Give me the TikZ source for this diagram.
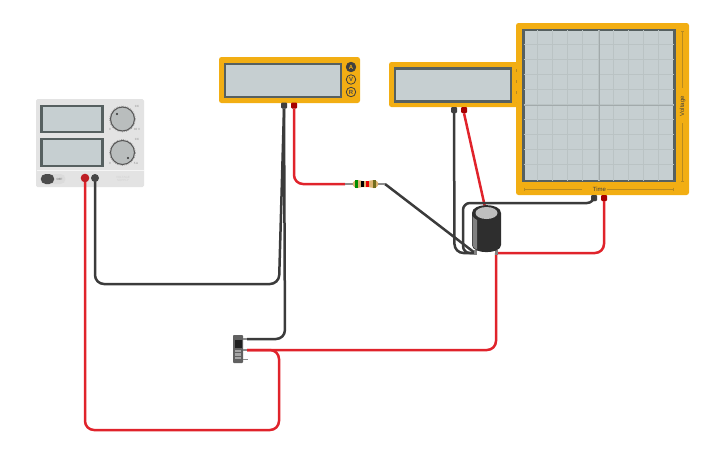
\documentclass[tikz,border=0pt]{standalone}
\usepackage{fontspec}
\setmainfont{Liberation Sans}
\usetikzlibrary{calc}
\definecolor{amber}{HTML}{F2AE13}
\definecolor{amberdk}{HTML}{B98A1E}
\definecolor{lcd}{HTML}{C6CFD1}
\definecolor{lcdedge}{HTML}{566060}
\definecolor{wirered}{HTML}{E0232B}
\definecolor{wireblk}{HTML}{3B3B3B}
\definecolor{psgrey}{HTML}{E3E3E3}
\definecolor{knob}{HTML}{B9BDBD}
\definecolor{tan}{HTML}{DDB36F}
\begin{document}
\begin{tikzpicture}[x=1pt,y=-1pt,
  box/.style={fill=amber,rounded corners=2.5pt},
  lcdbox/.style={fill=lcd,draw=lcdedge,line width=2.2pt},
  redw/.style={draw=wirered,line width=2.5pt,rounded corners=9pt},
  blkw/.style={draw=wireblk,line width=2.5pt,rounded corners=9pt},
  termb/.style={fill=black!75,minimum width=6pt,minimum height=6pt,inner sep=0pt,rounded corners=1pt},
  termr/.style={fill=red!65!black,minimum width=6pt,minimum height=6pt,inner sep=0pt,rounded corners=1pt},
  btn/.style={circle,draw=black!75,line width=.8pt,minimum size=9.5pt,inner sep=0pt,font=\fontsize{6}{6}\selectfont\bfseries,text=black!70},
  dial/.style={circle,fill=knob,draw=black!65,line width=1.1pt,minimum size=24pt,inner sep=0pt},
  tiny/.style={font=\fontsize{3}{3}\selectfont,text=black!45,inner sep=0pt},
  scal/.style={draw=amberdk,line width=.5pt},
  label/.style={font=\fontsize{6}{6}\selectfont,text=black!75,inner sep=0pt}]
\useasboundingbox (0,0) rectangle (725,453);

% wire end points at the parts
\coordinate (rl) at (345,184);
\coordinate (rr) at (385,184);
\coordinate (capk) at (475,253);
\coordinate (capa) at (496,253);
\coordinate (capt) at (485,207);
\coordinate (swa) at (247,339);
\coordinate (swb) at (247,350);
\coordinate (swc) at (248,359.5);
\coordinate (c1) at (279,284);
\coordinate (c2) at (279,430);
\coordinate (c3) at (496,350);

% power supply
\node[fill=psgrey,rounded corners=1.5pt,minimum width=108pt,minimum height=88pt,inner sep=0pt] (ps) at (90,143) {};
\fill[black!4] (36.5,170) rectangle (143.5,171);
\node[lcdbox,minimum width=61pt,minimum height=26pt,inner sep=0pt] (ps1) at (72,119) {};
\node[lcdbox,minimum width=61pt,minimum height=26.5pt,inner sep=0pt] (ps2) at (72,152.5) {};
\node[dial] (k1) at (122.5,119) {};
\node[dial] (k2) at (122.5,152.5) {};
\draw[black!45,line width=.6pt,dash pattern=on .7pt off 1.2pt] (k1) circle (13pt) (k2) circle (13pt);
\fill[black!80] (117,114) circle (1.1pt);
\fill[black!80] (128,158) circle (1.1pt);
\node[tiny] at (110,129.5) {0};
\node[tiny] at (137,129.5) {30 V};
\node[tiny] at (110,163) {0};
\node[tiny] at (136,163) {5 A};
\node[tiny] at (137,106) {CC};
\node[tiny] at (137,139.5) {CC};
\node[fill=black!14,rounded corners=5pt,minimum width=25pt,minimum height=10pt,inner sep=0pt] (swbody) at (53,179) {};
\node[fill=black!70,rounded corners=5pt,minimum width=13.5pt,minimum height=10pt,inner sep=0pt] (swknob) at (47.5,179) {};
\node[tiny,text=black!60] at (59.5,179) {OFF};
\node[tiny,text=black!18,align=center] at (123,179) {VOLTAGE\\SUPPLY};
\node[circle,minimum size=8.5pt,inner sep=0pt] (psr) at (85,178) {};
\node[circle,minimum size=8pt,inner sep=0pt] (psk) at (95,178) {};

% ammeter
\node[box,minimum width=141pt,minimum height=46pt,inner sep=0pt] (am) at (289.5,80) {};
\node[lcdbox,minimum width=116pt,minimum height=33pt,inner sep=0pt] (amlcd) at (283,80.5) {};
\node[btn,fill=black!75,text=amber] (ba) at (351,67) {A};
\node[btn] (bv) at (351,79.5) {V};
\node[btn] (br) at (351,92) {R};
\node[termb] (amk) at (284,105.5) {};
\node[termr] (ama) at (294,105.5) {};

% second meter
\node[box,minimum width=130pt,minimum height=45pt,inner sep=0pt] (vm) at (454,84.5) {};
\node[lcdbox,minimum width=116pt,minimum height=33pt,inner sep=0pt] (vmlcd) at (453,85) {};
\node[termb] (vmk) at (454,110) {};
\node[termr] (vma) at (464,110) {};

% oscilloscope
\node[box,minimum width=173pt,minimum height=172pt,inner sep=0pt] (sc) at (602.5,109) {};
\node[lcdbox,minimum width=151pt,minimum height=151pt,inner sep=0pt] (sclcd) at (599,105.5) {};
\foreach \i in {1,...,9} {
  \draw[lcd!94!black,line width=.8pt] ($(sclcd.north west)+(15.1*\i,1.3)$) -- ($(sclcd.south west)+(15.1*\i,-1.3)$);
  \draw[lcd!94!black,line width=.8pt] ($(sclcd.north west)+(1.3,15.1*\i)$) -- ($(sclcd.north east)+(-1.3,15.1*\i)$);
}
\draw[lcd!82!black,line width=.8pt] ($(sclcd.north)+(0,1.3)$) -- ($(sclcd.south)+(0,-1.3)$);
\draw[lcd!82!black,line width=.8pt] ($(sclcd.west)+(1.3,0)$) -- ($(sclcd.east)+(-1.3,0)$);
\node[label] (tl) at (599.5,189) {Time};
\node[label,rotate=90] (vl) at (682.5,106) {Voltage};
\draw[scal] (524,187.5) -- (524,190.5) (524,189) -- (582,189) (607,189) -- (673.5,189) (673.5,187.5) -- (673.5,190.5);
\draw[scal] (681,31) -- (684,31) (682.5,31) -- (682.5,88) (682.5,123) -- (682.5,181) (681,181) -- (684,181);
\draw[scal,dash pattern=on 3pt off 8pt] (516.5,69) -- (516.5,102);
\node[termb] (sck) at (594,198) {};
\node[termr] (sca) at (604,198) {};

% wires
\draw[blkw] (psk.center) -- (95,284) -- (c1) -- (amk.south);
\draw[blkw] (amk.south) -- (285,339) -- (swa);
\draw[redw] (ama.south) |- (rl);
\draw[blkw,rounded corners=0pt] (rr) -- (capk);
\draw[blkw] (vmk.south) -- (454.5,253) -- (capk);
\draw[draw=wirered,line width=2.5pt] (vma.south) -- (capt);
\draw[blkw,rounded corners=7pt] (sck.south) |- (463,203) -- (463,253) -- (capk);
\draw[redw] (psr.center) -- (85,430) -- (c2) -- (279,350) -- (swb);
\draw[redw] (swb) -- (c3) -- (capa);
\draw[redw] (capa) -- (604,253) -- (sca.south);

% binding posts over the wire ends
\fill[wirered!85!black] (psr) circle (4.3pt);
\fill[black!72] (psk) circle (4pt);

% resistor
\draw[line width=1.3pt,black!45] (rl) -- (rr);
\node[minimum width=27pt,minimum height=9pt,inner sep=0pt] (res) at (365.5,184) {};
\fill[tan,rounded corners=1.5pt] (352,184) -- (355,180) -- (359,180) -- (361,181) -- (370,181) -- (372,180) -- (376,180) -- (379,184) -- (376,188) -- (372,188) -- (370,187) -- (361,187) -- (359,188) -- (355,188) -- cycle;
\fill[green!55!black] (355,180) rectangle (358.3,188);
\fill[black] (360.8,181) rectangle (363.6,187);
\fill[red!90!black] (366,181) rectangle (369,187);
\fill[olive!75!black] (372.7,180) rectangle (375.6,188);

% capacitor
\fill[black!50] (473.5,250) rectangle (476.5,254.5);
\fill[black!50] (494.5,250) rectangle (497.5,254.5);
\node[minimum width=29pt,minimum height=47pt,inner sep=0pt] (cap) at (486.5,228.5) {};
\fill[black!82] (472,213) .. controls (472,202.5) and (501,202.5) .. (501,213) -- (501,245)
  .. controls (501,254.5) and (472,254.5) .. (472,245) -- cycle;
\fill[black!50] (472.5,216) .. controls (473.5,218) and (475,219) .. (477,220) -- (477,249.5) .. controls (475,249) and (473,247.5) .. (472.5,245) -- cycle;
\fill[black!25] (486.5,213) ellipse[x radius=11,y radius=6];

% push switch
\node[fill=black!62,rounded corners=.8pt,minimum width=10pt,minimum height=28pt,inner sep=0pt] (sw) at (238,349) {};
\fill[black!88] (234.5,340) rectangle (241.5,348);
\fill[black!35] (235,349.5) rectangle (241,352);
\fill[black!35] (235,353) rectangle (241,355.5);
\fill[black!35] (235,356.5) rectangle (241,359);
\draw[black!45,line width=1.3pt] (sw.east |- swa) -- (swa) (sw.east |- swb) -- (swb) (sw.east |- swc) -- (swc);
\end{tikzpicture}
\end{document}
